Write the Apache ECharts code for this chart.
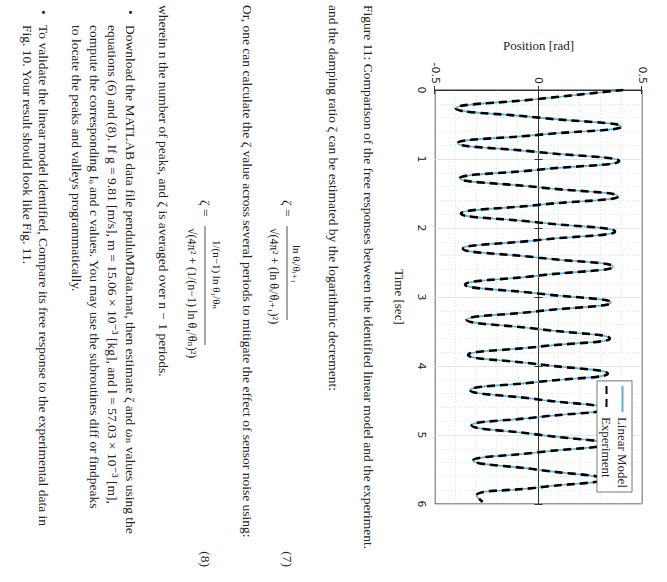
<!DOCTYPE html>
<html><head><meta charset="utf-8">
<script src="https://cdn.jsdelivr.net/npm/echarts@6/dist/echarts.min.js"></script>
<style>
html,body{margin:0;padding:0;background:#fff;width:667px;height:582px;overflow:hidden}
#c{position:absolute;left:0;top:0;width:582px;height:667px;transform-origin:0 0;transform:translate(667px,0) rotate(90deg)}
</style></head><body><div id="c"></div>
<script>
// Time of extrema / zero crossings [sec] and position [rad]
const expT = [0,0.13,0.266,0.40,0.53,0.65,0.77,0.90,1.03,1.155,1.28,1.41,1.54,1.665,1.79,1.92,2.05,2.175,2.30,2.43,2.56,2.69,2.82,2.95,3.08,3.205,3.33,3.465,3.60,3.72,3.84,3.975,4.11,4.23,4.35,4.485,4.62,4.74,4.86,4.995,5.13,5.25,5.37,5.505,5.64,5.76,5.88,5.97];
const expY = [0.41,0.0,-0.40,0.0,0.40,0.0,-0.39,0.0,0.39,0.0,-0.38,0.0,0.385,0.0,-0.375,0.0,0.37,0.0,-0.365,0.0,0.36,0.0,-0.355,0.0,0.35,0.0,-0.347,0.0,0.345,0.0,-0.34,0.0,0.335,0.0,-0.33,0.0,0.325,0.0,-0.323,0.0,0.315,0.0,-0.316,0.0,0.31,0.0,-0.30,-0.27];
const modelT = expT.slice();
const modelY = expY.slice();
const timeTicks = [0,1,2,3,4,5,6];
const posTicks = [-0.5,0,0.5];
const seriesNames = ['Linear Model','Experiment'];

const SERIF = 'DejaVu Serif';
const FF = 'Liberation Serif, DejaVu Serif, serif';
const chart = echarts.init(document.getElementById('c'), null, {renderer:'svg'});
const grid = {left:90, width:414, top:25, height:207, show:true, borderColor:'#333', borderWidth:1};
const minor = {show:true, lineStyle:{color:'#ddd', type:[1,2], width:0.8}};
function T(u, v, s, opt){return {type:'text', x:u, y:v, style:Object.assign({text:s, fill:'#222', fontFamily:FF, fontSize:13.5, verticalAlign:'middle'}, opt||{})};}
const lines = [
  [5,299,'Figure 11: Comparison of the free responses between the identified linear model and the experiment.'],
  [5,334,'and the damping ratio \u03b6 can be estimated by the logarithmic decrement:'],
  [5,420,'Or, one can calculate the \u03b6 value across several periods to mitigate the effect of sensor noise using:'],
  [5,504,'wherein n the number of peaks, and \u03b6 is averaged over n \u2212 1 periods.'],
  [25,537,'Download the MATLAB data file penduluMData.mat, then estimate \u03b6 and \u03c9\u2099 values using the'],
  [25,555,'equations (6) and (8). If g = 9.81 [m/s], m = 15.06 \u00d7 10\u207b\u00b3 [kg], and l = 57.03 \u00d7 10\u207b\u00b3 [m],'],
  [25,573,'compute the corresponding I\u2092 and c values. You may use the subroutines diff or findpeaks'],
  [25,591,'to locate the peaks and valleys programmatically.'],
  [25,624,'To validate the linear model identified, Compare its free response to the experimental data in'],
  [25,640,'Fig. 10. Your result should look like Fig. 11.']
];
const graphics = lines.map(l=>T(l[0],l[1],l[2]));
graphics.push(T(10,537,'\u2022'), T(10,624,'\u2022'));
// eq 7
graphics.push(T(200,380,'\u03b6 ='), T(245,370,'ln \u03b8\u1d62/\u03b8\u1d62\u208a\u2081',{fontSize:11}),
  {type:'line', shape:{x1:226,y1:380,x2:320,y2:380}, style:{stroke:'#222',lineWidth:0.8}},
  T(228,393,'\u221a(4\u03c0\u00b2 + (ln \u03b8\u1d62/\u03b8\u1d62\u208a\u2081)\u00b2)',{fontSize:12}),
  T(567,380,'(7)',{align:'right'}));
// eq 8
graphics.push(T(200,462,'\u03b6 ='), T(240,450,'1/(n\u22121) ln \u03b8\u2081/\u03b8\u2099',{fontSize:11}),
  {type:'line', shape:{x1:226,y1:462,x2:345,y2:462}, style:{stroke:'#222',lineWidth:0.8}},
  T(228,475,'\u221a(4\u03c0\u00b2 + (1/(n\u22121) ln \u03b8\u2081/\u03b8\u2099)\u00b2)',{fontSize:12}),
  T(567,462,'(8)',{align:'right'}));

chart.setOption({
  animation:false,
  grid:grid,
  legend:{data:seriesNames, orient:'vertical', right:90, top:35, itemWidth:26, itemHeight:10, itemGap:3,
    backgroundColor:'#fff', borderColor:'#555', borderWidth:0.8, padding:[3,4], borderRadius:0,
    itemStyle:{opacity:0},
    textStyle:{fontFamily:FF, fontSize:13, color:'#222'}},
  xAxis:[{type:'value', min:0, max:6, interval:1, name:'Time [sec]', nameLocation:'middle', nameGap:29,
    nameTextStyle:{fontFamily:FF, fontSize:13, color:'#222'},
    axisLabel:{fontFamily:'DejaVu Sans', fontSize:11, color:'#222', margin:8, formatter:v=>timeTicks.includes(v)?String(v):''},
    axisLine:{lineStyle:{color:'#333'}}, axisTick:{inside:true, length:4, lineStyle:{color:'#333'}},
    splitLine:{show:true, lineStyle:{color:'#ddd', width:0.8}}, minorTick:{show:false, splitNumber:5}, minorSplitLine:minor},
   {type:'value', min:0, max:6, interval:1, position:'top', axisLabel:{show:false}, axisLine:{show:false},
    axisTick:{inside:true, length:4, lineStyle:{color:'#333'}}, splitLine:{show:false}}],
  yAxis:[{type:'value', min:-0.5, max:0.5, interval:0.5, name:'Position [rad]', nameLocation:'middle', nameGap:37,
    nameTextStyle:{fontFamily:FF, fontSize:13, color:'#222'},
    axisLabel:{fontFamily:'DejaVu Sans', fontSize:11, color:'#222', margin:6, formatter:v=>posTicks.includes(v)?String(v):''},
    axisLine:{lineStyle:{color:'#333'}}, axisTick:{inside:true, length:4, lineStyle:{color:'#333'}},
    splitLine:{show:true, lineStyle:{color:'#ddd', width:0.8}}, minorTick:{show:false, splitNumber:5}, minorSplitLine:minor},
   {type:'value', min:-0.5, max:0.5, interval:0.5, position:'right', axisLabel:{show:false}, axisLine:{show:false},
    axisTick:{inside:true, length:4, lineStyle:{color:'#333'}}, splitLine:{show:false}}],
  series:[
    {name:seriesNames[0], type:'line', smooth:0.5, symbol:'none', data:modelT.map((t,i)=>[t,modelY[i]]),
     lineStyle:{color:'#5aaedc', width:1.6}, itemStyle:{color:'#5aaedc'}},
    {name:seriesNames[1], type:'line', smooth:0.5, symbol:'none', data:expT.map((t,i)=>[t,expY[i]]),
     lineStyle:{color:'#000', width:2.6, type:[8,5]}, itemStyle:{color:'#000'}}
  ],
  graphic:graphics
});
</script></body></html>
